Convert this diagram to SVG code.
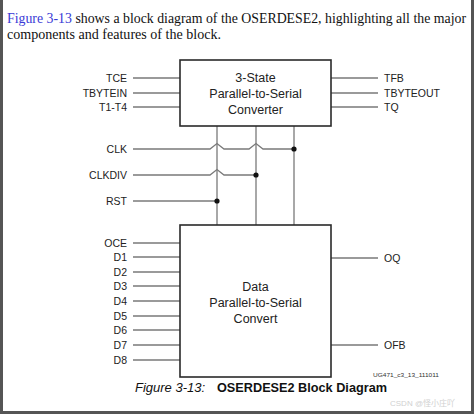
<svg xmlns="http://www.w3.org/2000/svg" width="474" height="414" viewBox="0 0 474 414">
<style>
.sig{stroke:#7a7a7a;stroke-width:1.3;fill:none}
.box{stroke:#2a2a2a;stroke-width:1.6;fill:#fff}
.lbl{font-family:"Liberation Sans",Arial,sans-serif;font-size:10.5px;fill:#222}
.ttl{font-family:"Liberation Sans",Arial,sans-serif;font-size:12.5px;fill:#222;text-anchor:middle}
.para{font-family:"Liberation Serif","Times New Roman",serif;font-size:15px;fill:#111}
.end{text-anchor:end}
</style>
<rect x="0" y="0" width="474" height="414" fill="#fff"/>
<path d="M1.5 0 V412.5 H472.5 V0" fill="none" stroke="#555" stroke-width="3"/>
<g id="intro">
<text class="para" x="7" y="23" textLength="459" lengthAdjust="spacingAndGlyphs"><tspan fill="#3a3ad6">Figure 3-13</tspan> shows a block diagram of the OSERDESE2, highlighting all the major</text>
<text class="para" x="7" y="39" textLength="214" lengthAdjust="spacingAndGlyphs">components and features of the block.</text>
</g>
<g id="connectors">
<path class="sig" d="M133 78H180M133 93H180M133 107H180"/>
<path class="sig" d="M331 78H378M331 93H378M331 107H378"/>
<path class="sig" d="M217 126V225M256 126V225M294 126V225"/>
<path class="sig" d="M133 149H210L217 143.5L224 149H249L256 143.5L263 149H294"/>
<path class="sig" d="M133 175H210L217 169.5L224 175H256"/>
<path class="sig" d="M133 201H217"/>
<path class="sig" d="M133 243H180M133 257H180M133 272H180M133 286H180M133 301H180M133 316H180M133 330H180M133 345H180M133 360H180"/>
<path class="sig" d="M331 258H378M331 345H378"/>
<circle cx="294" cy="149" r="2.6" fill="#111"/>
<circle cx="256" cy="175" r="2.6" fill="#111"/>
<circle cx="217" cy="201" r="2.6" fill="#111"/>
</g>
<g id="tristate">
<rect class="box" x="180" y="60" width="151" height="66"/>
<text class="ttl" x="255.5" y="81.5">3-State</text>
<text class="ttl" x="255.5" y="97.5">Parallel-to-Serial</text>
<text class="ttl" x="255.5" y="113.5">Converter</text>
</g>
<g id="data">
<rect class="box" x="180" y="225" width="151" height="152"/>
<text class="ttl" x="255.5" y="290.5">Data</text>
<text class="ttl" x="255.5" y="306.5">Parallel-to-Serial</text>
<text class="ttl" x="255.5" y="322.5">Convert</text>
</g>
<g id="labels-left">
<text class="lbl end" x="127" y="82">TCE</text>
<text class="lbl end" x="127" y="97">TBYTEIN</text>
<text class="lbl end" x="127" y="111">T1-T4</text>
<text class="lbl end" x="127" y="153">CLK</text>
<text class="lbl end" x="127" y="179">CLKDIV</text>
<text class="lbl end" x="127" y="205">RST</text>
<text class="lbl end" x="127" y="247">OCE</text>
<text class="lbl end" x="127" y="261">D1</text>
<text class="lbl end" x="127" y="276">D2</text>
<text class="lbl end" x="127" y="290">D3</text>
<text class="lbl end" x="127" y="305">D4</text>
<text class="lbl end" x="127" y="320">D5</text>
<text class="lbl end" x="127" y="334">D6</text>
<text class="lbl end" x="127" y="349">D7</text>
<text class="lbl end" x="127" y="364">D8</text>
</g>
<g id="labels-right">
<text class="lbl" x="384" y="82">TFB</text>
<text class="lbl" x="384" y="97">TBYTEOUT</text>
<text class="lbl" x="384" y="111">TQ</text>
<text class="lbl" x="384" y="262">OQ</text>
<text class="lbl" x="384" y="349">OFB</text>
</g>
<g id="caption">
<text x="373" y="377" font-family="'Liberation Sans',Arial,sans-serif" font-size="6" fill="#333" textLength="66" lengthAdjust="spacingAndGlyphs">UG471_c3_13_111011</text>
<text x="135" y="392" font-family="'Liberation Sans',Arial,sans-serif" font-size="13" font-style="italic" fill="#111">Figure 3-13:</text>
<text x="217" y="392" font-family="'Liberation Sans',Arial,sans-serif" font-size="13" font-weight="bold" fill="#111" textLength="170" lengthAdjust="spacingAndGlyphs">OSERDESE2 Block Diagram</text>
<text x="390" y="406" font-family="'Liberation Sans','Noto Sans CJK SC',sans-serif" font-size="8" fill="#d0d0d0">CSDN @怪小庄吖</text>
</g>
</svg>
